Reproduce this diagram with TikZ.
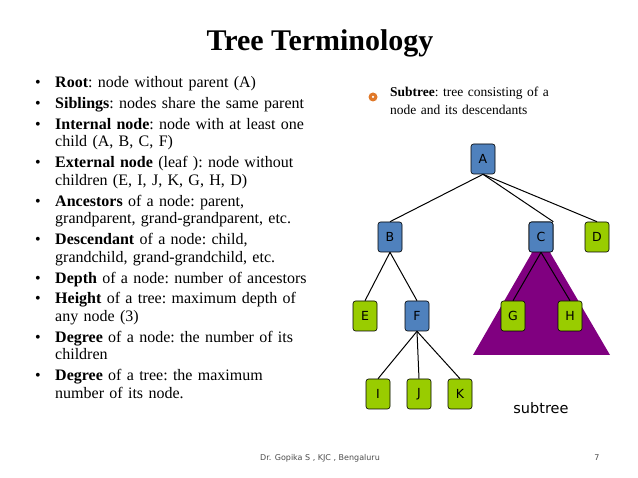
\documentclass[tikz,border=0pt]{standalone}
\usepackage{fontspec}
\setmainfont{Liberation Serif}
\newfontfamily\nodefont{DejaVu Sans}
\usetikzlibrary{shapes.geometric}
\definecolor{nblue}{RGB}{79,129,189}
\definecolor{ngreen}{RGB}{153,204,0}
\definecolor{subpurple}{RGB}{128,0,128}
\definecolor{bulor}{RGB}{224,120,40}
\newcommand{\bitem}[1]{\par\hangindent=22pt\hangafter=1\noindent\makebox[22pt][l]{\hspace{2pt}\textbullet}#1\par\vspace{3.4pt}}
\begin{document}
\begin{tikzpicture}[x=1pt,y=-1pt,
  tn/.style={draw=black,line width=0.6pt,rounded corners=2.5pt,minimum width=24pt,minimum height=30pt,inner sep=0pt,font=\nodefont\fontsize{12.5}{14}\selectfont},
  inode/.style={tn,fill=nblue},
  lnode/.style={tn,fill=ngreen},
  edge/.style={line width=1pt}]
\useasboundingbox (0,0) rectangle (638,478);
\node[font=\bfseries\fontsize{30}{34}\selectfont] (title) at (320,43) {Tree Terminology};
\node[anchor=north west,inner sep=0pt,text width=295pt,font=\fontsize{16}{17.5}\selectfont] (list) at (33,70) {\frenchspacing\hyphenpenalty=10000\exhyphenpenalty=10000\tolerance=9999\emergencystretch=20pt
\bitem{\textbf{Root}: node without parent (A)}
\bitem{\textbf{Siblings}: nodes share the same parent}
\bitem{\textbf{Internal node}: node with at least one\linebreak child (A, B, C, F)}
\bitem{\textbf{External node} (leaf~): node without\linebreak children (E, I, J, K, G, H, D)}
\bitem{\textbf{Ancestors} of a node: parent,\linebreak grandparent, grand-grandparent, etc.}
\bitem{\textbf{Descendant} of a node: child,\linebreak grandchild, grand-grandchild, etc.}
\bitem{\textbf{Depth} of a node: number of ancestors}
\bitem{\textbf{Height} of a tree: maximum depth of\linebreak any node (3)}
\bitem{\textbf{Degree} of a node: the number of its\linebreak children}
\bitem{\textbf{Degree} of a tree: the maximum\linebreak number of its node.}
};
\node[circle,fill=bulor,minimum size=9pt,inner sep=0pt] (bul) at (373,97) {};
\node[circle,fill=white,minimum size=2.5pt,inner sep=0pt] (buldot) at (373,97) {};
\node[anchor=north west,inner sep=0pt,text width=200pt,font=\fontsize{13.5}{18}\selectfont] (sub) at (390,87) {\frenchspacing\textbf{Subtree}: tree consisting of a\\node and its descendants};
\coordinate (t1) at (473,355);
\coordinate (t2) at (610,355);
\node[inode] (C) at (541,237) {C};
\fill[subpurple] (C.center) -- (t2) -- (t1) -- cycle;
\node[inode] (A) at (483,159) {A};
\node[inode] (B) at (390,237) {B};
\node[inode] (C2) at (541,237) {C};
\node[lnode] (D) at (597,237) {D};
\node[lnode] (E) at (365,316) {E};
\node[inode] (F) at (417,316) {F};
\node[lnode] (G) at (513,316) {G};
\node[lnode] (H) at (570,316) {H};
\node[lnode] (I) at (378,394) {I};
\node[lnode] (J) at (419,394) {J};
\node[lnode] (K) at (460,394) {K};
\draw[edge] (A.south) -- (B.north);
\draw[edge] (A.south) -- (C2.north east);
\draw[edge] (A.south) -- (D.north);
\draw[edge] (B.south) -- (E.north);
\draw[edge] (B.south) -- (F.north);
\draw[edge] (C2.south) -- (G.north);
\draw[edge] (C2.south) -- (H.north);
\draw[edge] (F.south) -- (I.north);
\draw[edge] (F.south) -- (J.north);
\draw[edge] (F.south) -- (K.north);
\node[font=\nodefont\fontsize{14.5}{16}\selectfont] (lab) at (541,408) {subtree};
\node[font=\nodefont\fontsize{8}{10}\selectfont,text=black!70] (foot) at (320,458) {Dr. Gopika S , KJC , Bengaluru};
\node[font=\nodefont\fontsize{8}{10}\selectfont,text=black!70] (pg) at (597,458) {7};
\end{tikzpicture}
\end{document}
